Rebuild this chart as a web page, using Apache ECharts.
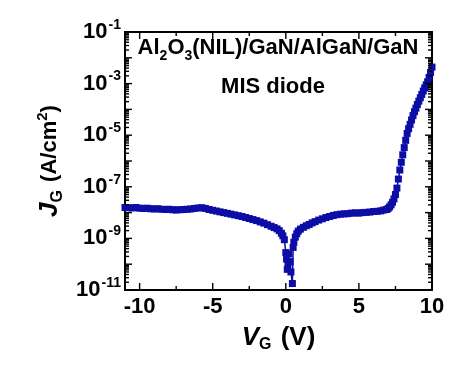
<!DOCTYPE html>
<html>
<head>
<meta charset="utf-8">
<script src="https://cdn.jsdelivr.net/npm/echarts@6/dist/echarts.min.js"></script>
<style>html,body{margin:0;padding:0;background:#fff;}#c{width:474px;height:384px;}</style>
</head>
<body>
<div id="c"></div>
<script>
// Gate voltage (V)
const vg = [-11.0,-10.75,-10.5,-10.25,-10.0,-9.75,-9.5,-9.25,-9.0,-8.75,-8.5,-8.25,-8.0,-7.75,-7.5,-7.25,-7.0,-6.75,-6.5,-6.25,-6.0,-5.75,-5.5,-5.25,-5.0,-4.75,-4.5,-4.25,-4.0,-3.75,-3.5,-3.25,-3.0,-2.75,-2.5,-2.25,-2.0,-1.75,-1.5,-1.25,-1.0,-0.8,-0.6,-0.45,-0.3,-0.2,-0.1,0.0,0.05,0.1,0.15,0.2,0.3,0.35,0.45,0.5,0.55,0.65,0.75,0.85,1.0,1.2,1.4,1.6,1.8,2.0,2.25,2.5,2.75,3.0,3.25,3.5,3.75,4.0,4.25,4.5,4.75,5.0,5.25,5.5,5.75,6.0,6.25,6.5,6.7,6.9,7.0,7.1,7.2,7.3,7.4,7.5,7.6,7.7,7.8,7.9,8.0,8.1,8.2,8.3,8.4,8.5,8.6,8.7,8.8,8.9,9.0,9.1,9.2,9.3,9.4,9.5,9.6,9.7,9.8,9.9,10.0];
// Gate current density (A/cm^2)
const jg = [1.58e-8,1.55e-8,1.51e-8,1.58e-8,1.48e-8,1.45e-8,1.48e-8,1.41e-8,1.38e-8,1.41e-8,1.35e-8,1.32e-8,1.35e-8,1.29e-8,1.26e-8,1.29e-8,1.32e-8,1.35e-8,1.38e-8,1.45e-8,1.51e-8,1.55e-8,1.45e-8,1.32e-8,1.23e-8,1.15e-8,1.07e-8,1.00e-8,9.33e-9,8.71e-9,8.13e-9,7.59e-9,7.08e-9,6.46e-9,5.89e-9,5.37e-9,4.90e-9,4.37e-9,3.89e-9,3.39e-9,2.95e-9,2.63e-9,2.34e-9,2.00e-9,1.58e-9,1.26e-9,8.91e-10,2.82e-10,1.58e-10,6.31e-11,1.12e-10,2.51e-10,1.26e-10,5.01e-11,1.78e-11,4.47e-10,7.08e-10,1.12e-9,1.51e-9,1.91e-9,2.29e-9,2.69e-9,3.09e-9,3.47e-9,3.98e-9,4.47e-9,5.13e-9,5.75e-9,6.46e-9,7.08e-9,7.76e-9,8.32e-9,8.71e-9,8.91e-9,9.12e-9,9.55e-9,9.77e-9,9.55e-9,1.00e-8,1.02e-8,1.05e-8,1.10e-8,1.12e-8,1.17e-8,1.26e-8,1.32e-8,1.45e-8,1.66e-8,2.00e-8,2.51e-8,3.39e-8,5.01e-8,8.91e-8,2.00e-7,4.47e-7,8.91e-7,1.74e-6,3.31e-6,6.31e-6,1.17e-5,1.78e-5,2.63e-5,3.89e-5,5.75e-5,8.13e-5,1.12e-4,1.55e-4,2.09e-4,2.82e-4,3.80e-4,5.13e-4,6.76e-4,8.91e-4,1.17e-3,1.74e-3,2.69e-3,4.37e-3];
// Tick labels and tick positions
const xTickLabels = [-10,-5,0,5,10];
const xMinorTicks = [-7.5,-2.5,2.5,7.5];
const yTickLabels = [1e-11,1e-9,1e-7,1e-5,1e-3,1e-1];
const yDecades = [1e-11,1e-10,1e-9,1e-8,1e-7,1e-6,1e-5,1e-4,1e-3,1e-2,1e-1];

const yMinor = [];
for (let e = -11; e < -1; e++) for (let k = 2; k <= 9; k++) yMinor.push(Number(k + 'e' + e));

const X_MIN = -11, X_MAX = 10, Y_MIN = 1e-11, Y_MAX = 1e-1;
const FONT = '"Liberation Sans", Arial, sans-serif';
const chart = echarts.init(document.getElementById('c'));

function xAx(pos, labels, extra) {
  return Object.assign({
    type: 'value', min: X_MIN, max: X_MAX, position: pos,
    axisLine: {show: true, onZero: false, lineStyle: {color: '#000', width: 2}},
    axisTick: {show: false},
    axisLabel: labels ? {show: true, customValues: xTickLabels, margin: 6, fontFamily: FONT, fontWeight: 'bold', fontSize: 22, color: '#000'} : {show: false, customValues: xTickLabels},
    splitLine: {show: false}
  }, extra || {});
}
function yAx(pos, labels, extra) {
  return Object.assign({
    type: 'log', min: Y_MIN, max: Y_MAX, position: pos,
    axisLine: {show: true, onZero: false, lineStyle: {color: '#000', width: 2}},
    axisTick: {show: false},
    axisLabel: labels ? {
      show: true, customValues: yTickLabels, margin: 4, color: '#000',
      formatter: function (v) { const e = Math.round(Math.log10(v)); return '{b|10}{s|' + e + '}'; },
      rich: {
        b: {fontFamily: FONT, fontWeight: 'bold', fontSize: 22, color: '#000', lineHeight: 24},
        s: {fontFamily: FONT, fontWeight: 'bold', fontSize: 14, color: '#000', lineHeight: 14, padding: [0, 0, 14, 1]}
      }
    } : {show: false, customValues: yTickLabels},
    splitLine: {show: false}
  }, extra || {});
}

// inward tick marks drawn through the axes' own scales
function tickSeries(values, isX, len) {
  return {
    type: 'custom', coordinateSystem: 'cartesian2d', xAxisIndex: 0, yAxisIndex: 0,
    silent: true, clip: false, z: 5, tooltip: {show: false},
    data: values.map(function (v) { return isX ? [v, Y_MIN] : [X_MIN, v]; }),
    renderItem: function (params, api) {
      const sty = {stroke: '#000', lineWidth: 1.4};
      if (isX) {
        const v = api.value(0);
        const b = api.coord([v, Y_MIN]), t = api.coord([v, Y_MAX]);
        return {type: 'group', children: [
          {type: 'line', shape: {x1: b[0], y1: b[1], x2: b[0], y2: b[1] - len}, style: sty},
          {type: 'line', shape: {x1: t[0], y1: t[1], x2: t[0], y2: t[1] + len}, style: sty}
        ]};
      }
      const v = api.value(1);
      const l = api.coord([X_MIN, v]), r = api.coord([X_MAX, v]);
      return {type: 'group', children: [
        {type: 'line', shape: {x1: l[0], y1: l[1], x2: l[0] + len, y2: l[1]}, style: sty},
        {type: 'line', shape: {x1: r[0], y1: r[1], x2: r[0] - len, y2: r[1]}, style: sty}
      ]};
    }
  };
}

chart.setOption({
  animation: false,
  title: [
    {text: '{n|Al}{s|2}{n|O}{s|3}{n|(NIL)/GaN/AlGaN/GaN}', left: 278, top: 33, textAlign: 'center', padding: 0,
     textStyle: {rich: {
       n: {fontFamily: FONT, fontWeight: 'bold', fontSize: 22, color: '#000'},
       s: {fontFamily: FONT, fontWeight: 'bold', fontSize: 14, color: '#000', padding: [16, 0, 0, 0]}
     }}},
    {text: 'MIS diode', left: 273, top: 76, textAlign: 'center', padding: 0,
     textStyle: {fontFamily: FONT, fontWeight: 'bold', fontSize: 22, color: '#000'}}
  ],
  grid: {left: 125, right: 42, top: 32, bottom: 94, show: true, borderColor: '#000', borderWidth: 2, backgroundColor: 'transparent'},
  xAxis: [
    xAx('bottom', true, {
      name: '{i|V}{sub|G}{n| (V)}', nameLocation: 'middle', nameGap: 33,
      nameTextStyle: {rich: {
        i: {fontFamily: FONT, fontWeight: 'bold', fontStyle: 'italic', fontSize: 26, color: '#000'},
        sub: {fontFamily: FONT, fontWeight: 'bold', fontSize: 16, color: '#000', padding: [14, 2, 0, 0]},
        n: {fontFamily: FONT, fontWeight: 'bold', fontSize: 26, color: '#000'}
      }}
    }),
    xAx('top', false)
  ],
  yAxis: [
    yAx('left', true, {
      name: '{i|J}{sub|G}{n| (A/cm}{sup|2}{n|)}', nameLocation: 'middle', nameGap: 55, nameRotate: 90,
      nameTextStyle: {rich: {
        i: {fontFamily: FONT, fontWeight: 'bold', fontStyle: 'italic', fontSize: 26, color: '#000'},
        sub: {fontFamily: FONT, fontWeight: 'bold', fontSize: 16, color: '#000', padding: [14, 2, 0, 0]},
        n: {fontFamily: FONT, fontWeight: 'bold', fontSize: 22, color: '#000'},
        sup: {fontFamily: FONT, fontWeight: 'bold', fontSize: 15, color: '#000', padding: [0, 0, 14, 0]}
      }}
    }),
    yAx('right', false)
  ],
  series: [
    tickSeries(xTickLabels, true, 7),
    tickSeries(xMinorTicks, true, 4),
    tickSeries(yDecades, false, 7),
    tickSeries(yMinor, false, 4),
    {
      type: 'line', xAxisIndex: 0, yAxisIndex: 0, z: 3,
      data: vg.map(function (v, i) { return [v, jg[i]]; }),
      symbol: 'rect', symbolSize: 7, showSymbol: true, showAllSymbol: true,
      itemStyle: {color: '#0c0ca6'},
      lineStyle: {color: '#0c0ca6', width: 1.5},
      clip: false
    }
  ]
});
</script>
</body>
</html>
